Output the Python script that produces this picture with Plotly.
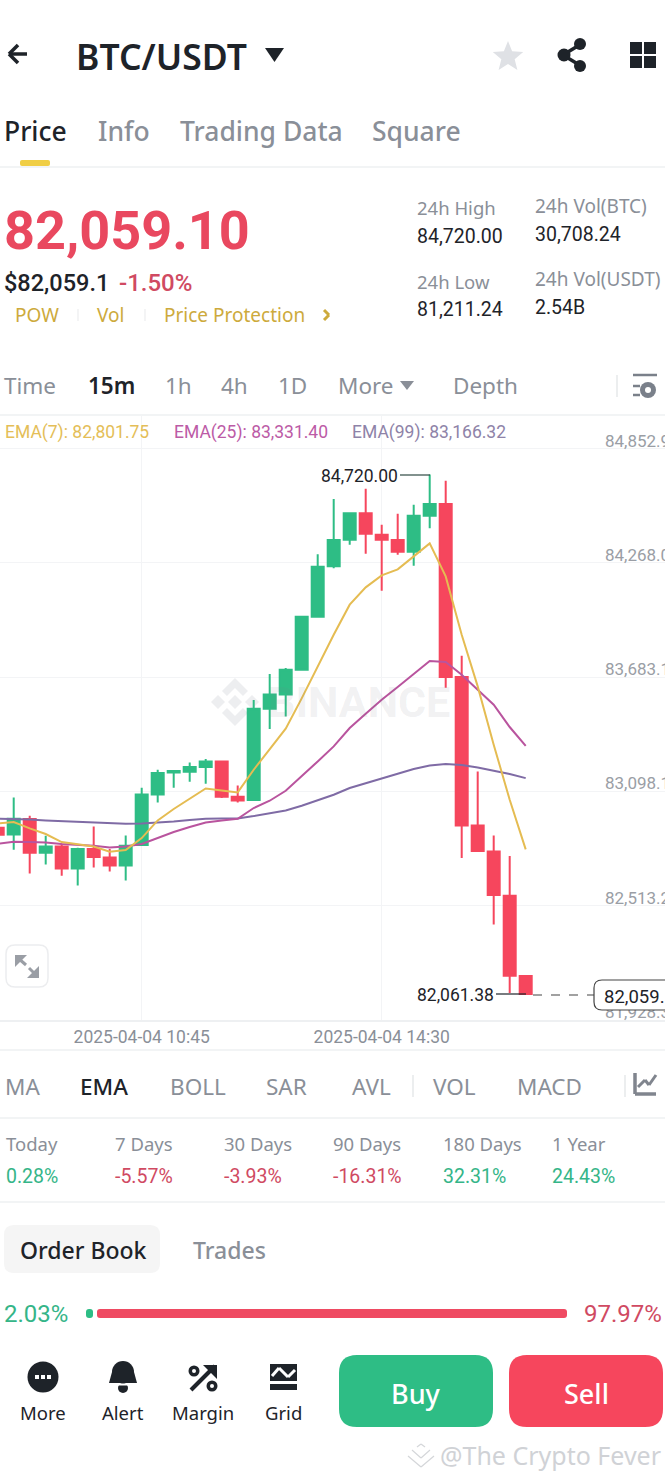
import math
import pandas as pd
import plotly.graph_objects as go

W = 665
H = 1477
TEXT_FONT = "Noto Sans"
NUM_FONT = "Roboto"
DARK = "#1E2329"
GRAY = "#8A8F98"
GREEN = "#2EBD85"
RED = "#F6465D"
GOLD = "#CDAA3C"
TXT_RED = "#D04A62"
TXT_GREEN = "#35B588"

# 15m candles, oldest first
times = pd.date_range("2025-04-04 08:30", periods=34, freq="15min")
opens = [82912.4, 82878.1, 82957.0, 82784.4, 82816.7, 82704.1, 82803.4, 82760.4, 82719.4, 82823.9,
         83082.9, 83195.6, 83199.2, 83223.2, 83251.9, 83071.2, 83054.3, 83521.7, 83594.9, 83721.4,
         83992.8, 84250.3, 84387.0, 84521.7, 84412.6, 84385.5, 84325.6, 84509.9, 84569.8, 83684.0,
         82924.2, 82791.1, 82564.3, 82153.1]
highs = [82938.0, 83067.6, 82973.9, 82871.5, 82830.5, 82810.0, 82919.1, 82803.4, 82873.0, 83117.2,
         83209.4, 83204.0, 83246.8, 83264.2, 83255.5, 83129.0, 83566.3, 83699.4, 83730.1, 83996.3,
         84311.8, 84595.4, 84521.7, 84648.1, 84463.8, 84520.1, 84566.2, 84720.0, 84689.1, 83793.1,
         83200.7, 82873.0, 82767.5, 82156.2]
lows = [82851.0, 82799.8, 82678.5, 82724.5, 82666.7, 82617.0, 82709.2, 82688.7, 82642.6, 82823.9,
        83042.0, 83117.2, 83148.0, 83137.7, 83064.5, 83042.0, 83050.7, 83417.8, 83482.3, 83721.4,
        83992.8, 84240.1, 84361.4, 84315.3, 84125.9, 84310.2, 84253.9, 84444.9, 83629.2, 82757.3,
        82793.1, 82417.3, 82066.1, 82061.38]
closes = [82876.6, 82958.5, 82784.4, 82816.7, 82704.1, 82803.4, 82762.4, 82719.4, 82820.3, 83082.9,
          83192.5, 83202.8, 83223.2, 83251.9, 83071.2, 83052.2, 83521.7, 83594.9, 83721.4, 83992.8,
          84248.8, 84385.5, 84521.7, 84417.7, 84387.0, 84325.6, 84509.9, 84569.8, 83684.0, 82924.2,
          82793.1, 82567.9, 82154.7, 82061.38]

ema7 = [82934.5, 82941.6, 82908.9, 82880.2, 82839.2, 82829.0, 82816.7, 82789.6, 82798.3, 82859.7,
        82949.8, 83008.2, 83060.9, 83113.7, 83103.4, 83093.2, 83209.4, 83311.8, 83419.3, 83574.5,
        83738.3, 83900.6, 84054.2, 84142.8, 84204.2, 84234.9, 84301.5, 84368.1, 84199.1, 83900.6,
        83635.9, 83337.4, 83055.8, 82801.75]
ema25 = [82830.5, 82840.8, 82839.2, 82837.2, 82829.0, 82825.4, 82820.3, 82811.6, 82816.7, 82829.0,
         82859.7, 82890.4, 82916.0, 82939.6, 82949.8, 82958.5, 83013.3, 83050.7, 83101.9, 83175.1,
         83251.9, 83328.7, 83422.9, 83496.1, 83567.8, 83632.8, 83700.9, 83765.9, 83760.8, 83695.8,
         83619.0, 83542.2, 83428.0, 83331.4]
ema99 = [82958.5, 82957.0, 82954.9, 82949.8, 82946.8, 82941.6, 82939.6, 82934.5, 82932.9, 82934.5,
         82938.0, 82944.7, 82951.9, 82958.5, 82960.1, 82960.1, 82972.3, 82987.8, 83001.0, 83025.1,
         83052.2, 83081.4, 83115.7, 83141.3, 83163.3, 83188.9, 83213.0, 83231.4, 83238.6, 83233.5,
         83221.2, 83205.9, 83187.4, 83166.32]

price_ticks = [84852.94, 84268.02, 83683.10, 83098.18, 82513.26, 81928.34]
date_ticks = ["2025-04-04 10:45", "2025-04-04 14:30"]

tabs = ["Price", "Info", "Trading Data", "Square"]
intervals = ["Time", "15m", "1h", "4h", "1D", "More", "Depth"]
indicators = ["MA", "EMA", "BOLL", "SAR", "AVL", "VOL", "MACD"]
period_names = ["Today", "7 Days", "30 Days", "90 Days", "180 Days", "1 Year"]
period_values = [0.28, -5.57, -3.93, -16.31, 32.31, 24.43]
bottom_names = ["More", "Alert", "Margin", "Grid"]

shapes = []
notes = []


def X(px):
    return px / W


def Y(px):
    return 1 - px / H


def txt(x, y, s, size, color=DARK, anchor="left", font=TEXT_FONT, weight=400):
    notes.append(dict(x=X(x), y=Y(y), xref="paper", yref="paper", text=s, showarrow=False,
                      xanchor=anchor, yanchor="middle", align=anchor, borderpad=0,
                      xshift=-1 if anchor == "left" else 0,
                      font=dict(size=size, color=color, family=font, weight=weight)))


def line(x0, y0, x1, y1, color="#EEF0F2", w=1.5, dash="solid", layer="above"):
    shapes.append(dict(type="line", xref="paper", yref="paper", x0=X(x0), y0=Y(y0), x1=X(x1), y1=Y(y1),
                       line=dict(color=color, width=w, dash=dash), layer=layer))


def poly(points, color, layer="above"):
    path = "M " + " L ".join(f"{X(p[0]):.5f},{Y(p[1]):.5f}" for p in points) + " Z"
    shapes.append(dict(type="path", xref="paper", yref="paper", path=path, fillcolor=color,
                       line=dict(width=0), layer=layer))


def dot(cx, cy, r, color):
    shapes.append(dict(type="circle", xref="paper", yref="paper", x0=X(cx - r), x1=X(cx + r),
                       y0=Y(cy + r), y1=Y(cy - r), fillcolor=color, line=dict(width=0), layer="above"))


def rbox(x0, y0, x1, y1, r, fill, border=None, bw=0):
    p = (f"M {X(x0 + r)},{Y(y0)} L {X(x1 - r)},{Y(y0)} Q {X(x1)},{Y(y0)} {X(x1)},{Y(y0 + r)} "
         f"L {X(x1)},{Y(y1 - r)} Q {X(x1)},{Y(y1)} {X(x1 - r)},{Y(y1)} L {X(x0 + r)},{Y(y1)} "
         f"Q {X(x0)},{Y(y1)} {X(x0)},{Y(y1 - r)} L {X(x0)},{Y(y0 + r)} Q {X(x0)},{Y(y0)} {X(x0 + r)},{Y(y0)} Z")
    shapes.append(dict(type="path", xref="paper", yref="paper", path=p, fillcolor=fill,
                       line=dict(color=border or fill, width=bw), layer="above"))


# header
line(9, 54, 27, 54, DARK, 3.5)
line(18, 45, 9, 54, DARK, 3.5)
line(9, 54, 18, 63, DARK, 3.5)
txt(76, 56, "BTC/USDT", 35.5, weight=600)
poly([(265, 48), (284, 48), (274.5, 62)], DARK)
star = []
for i in range(10):
    r = 16 if i % 2 == 0 else 7
    a = math.radians(-90 + 36 * i)
    star.append((508 + r * math.cos(a), 57 + r * math.sin(a)))
poly(star, "#DFE1E5")
line(563, 55, 581, 44, DARK, 3.5)
line(563, 55, 581, 66, DARK, 3.5)
dot(564, 55, 6.5, DARK)
dot(580, 44, 6, DARK)
dot(580, 66, 6, DARK)
for gx in (630, 644):
    for gy in (42, 56):
        poly([(gx, gy), (gx + 12, gy), (gx + 12, gy + 12), (gx, gy + 12)], DARK)

# tabs
for name, x in zip(tabs, [4, 98, 180, 372]):
    txt(x, 131, name, 26.5, DARK if name == "Price" else GRAY, weight=500)
rbox(20, 160, 50, 166, 2, "#F0CE45")
line(0, 167, W, 167)

# price block
txt(4, 231, "82,059.10", 54, "#E9485F", font=NUM_FONT, weight=700)
txt(4, 283, "$82,059.1", 23.5, font=NUM_FONT, weight=500)
txt(119, 283, "-1.50%", 24, TXT_RED, font=NUM_FONT, weight=500)
txt(15, 315, "POW", 19, GOLD)
txt(97, 315, "Vol", 19, GOLD)
txt(164, 315, "Price Protection", 19, GOLD)
line(78, 309, 78, 321, "#ECEDEF", 1.2)
line(145, 309, 145, 321, "#ECEDEF", 1.2)
line(324, 310, 329, 315, GOLD, 3)
line(329, 315, 324, 320, GOLD, 3)
txt(417, 208, "24h High", 18.5, GRAY)
txt(417, 236, "84,720.00", 19.5, font=NUM_FONT)
txt(535, 206, "24h Vol(BTC)", 19, GRAY)
txt(535, 234, "30,708.24", 19.5, font=NUM_FONT)
txt(417, 281, "24h Low", 18.5, GRAY)
txt(417, 310, "81,211.24", 19.5, font=NUM_FONT)
txt(535, 279, "24h Vol(USDT)", 19, GRAY)
txt(535, 307, "2.54B", 19.5, font=NUM_FONT)

# interval row
for name, x in zip(intervals, [4, 88, 165, 221, 278, 338, 453]):
    active = name == "15m"
    txt(x, 386, name, 22.5, DARK if active else GRAY, weight=600 if active else 400)
poly([(400, 381), (414, 381), (407, 390)], GRAY)
line(617, 375, 617, 397, "#E6E8EA", 1.5)
line(633, 375, 657, 375, "#7A808A", 2.5)
line(633, 386, 640, 386, "#7A808A", 2.5)
line(633, 395, 640, 395, "#7A808A", 2.5)
dot(648, 390, 8, "#7A808A")
dot(648, 390, 3, "white")
line(0, 415, W, 415)

# legend
txt(5, 432, "EMA(7): 82,801.75", 17.5, "#E4BE58", font=NUM_FONT)
txt(174, 432, "EMA(25): 83,331.40", 17.5, "#BC5BA6", font=NUM_FONT)
txt(352, 432, "EMA(99): 83,166.32", 17.5, "#8E83A8", font=NUM_FONT)

# watermark
poly([(235, 678), (248, 691), (243, 696), (235, 688), (227, 696), (222, 691)], "#EDEEF0", "below")
poly([(211, 702), (218, 695), (225, 702), (218, 709)], "#EDEEF0", "below")
poly([(228, 702), (235, 695), (242, 702), (235, 709)], "#EDEEF0", "below")
poly([(245, 702), (252, 695), (259, 702), (252, 709)], "#EDEEF0", "below")
poly([(235, 726), (222, 713), (227, 708), (235, 716), (243, 708), (248, 713)], "#EDEEF0", "below")
txt(268, 702, "BINANCE", 43, "rgba(120,125,135,0.11)", font=NUM_FONT, weight=700)

# chart markers
txt(321, 476, "84,720.00", 17.5, font=NUM_FONT)
line(400, 475, 430, 475, "#2F4A44", 1.2)
txt(417, 995, "82,061.38", 17.5, font=NUM_FONT)
line(496, 994, 526, 994, DARK, 1.2)
line(533, 995, 594, 995, "#444", 1.2, "dash")
rbox(594, 980, 680, 1010, 8, "white", "#444", 1.2)
txt(604, 997, "82,059.10", 18.5, font=NUM_FONT)
rbox(6, 945, 48, 987, 9, "white", "#ECEDEF", 1.5)
line(18, 958, 26, 965, "#9A9EA5", 3)
line(29, 968, 37, 976, "#9A9EA5", 3)
poly([(15, 955), (27, 955), (15, 967)], "#9A9EA5")
poly([(39, 978), (27, 978), (39, 966)], "#9A9EA5")

# indicator row
line(0, 1050, W, 1050)
for name, x in zip(indicators, [5, 80, 170, 266, 352, 433, 517]):
    txt(x, 1086, name, 22.5, DARK if name == "EMA" else GRAY, weight=500 if name == "EMA" else 400)
line(413, 1075, 413, 1097, "#E6E8EA", 1.5)
line(625, 1075, 625, 1097, "#E6E8EA", 1.5)
line(635, 1073, 635, 1094, "#80858E", 3.5)
line(635, 1094, 656, 1094, "#80858E", 3.5)
line(638, 1087, 645, 1080, "#80858E", 3)
line(645, 1080, 649, 1085, "#80858E", 3)
line(649, 1085, 656, 1075, "#80858E", 3)
line(0, 1118, W, 1118)

# period changes
for name, val, x in zip(period_names, period_values, [6, 115, 224, 333, 443, 552]):
    txt(x, 1143.5, name, 18.5, GRAY)
    col = TXT_GREEN if val >= 0 else TXT_RED
    txt(x, 1176, f"{val:.2f}%", 19.5, col, font=NUM_FONT)
line(0, 1202, W, 1202)

# order book
rbox(4, 1225, 160, 1273, 10, "#F5F5F5")
txt(20, 1250, "Order Book", 23, weight=500)
txt(193, 1250, "Trades", 23, GRAY, weight=500)
txt(4, 1314, "2.03%", 24, TXT_GREEN, font=NUM_FONT)
rbox(86, 1309, 93, 1318, 3, GREEN)
rbox(97, 1309, 567, 1318, 3, "#EF4A62")
txt(584, 1314, "97.97%", 24, TXT_RED, font=NUM_FONT)

# bottom bar
for name, x in zip(bottom_names, [43, 123, 203, 283]):
    txt(x, 1412, name, 18.5, anchor="center")
dot(43, 1377, 15.5, DARK)
for dx in (-6, 0, 6):
    poly([(43 + dx - 2, 1375), (43 + dx + 2, 1375), (43 + dx + 2, 1379), (43 + dx - 2, 1379)], "white")
dot(123, 1372, 11, DARK)
poly([(112, 1372), (134, 1372), (137, 1383), (109, 1383)], DARK)
dot(123, 1388, 5, DARK)
line(112, 1384.5, 134, 1384.5, "white", 2)
line(191, 1390, 215, 1366, DARK, 4)
poly([(203, 1365), (217, 1365), (217, 1379)], DARK)
dot(194, 1371, 5.5, DARK)
dot(194, 1371, 2, "white")
dot(212, 1386, 5.5, DARK)
dot(212, 1386, 2, "white")
poly([(270, 1364), (297, 1364), (297, 1381), (270, 1381)], DARK)
line(272, 1376, 279, 1368, "white", 3)
line(279, 1368, 288, 1377, "white", 3)
line(288, 1377, 295, 1370, "white", 3)
poly([(270, 1384), (297, 1384), (297, 1390), (270, 1390)], DARK)
rbox(339, 1355, 493, 1427, 18, GREEN)
rbox(509, 1355, 663, 1427, 18, RED)
txt(416, 1393, "Buy", 27, "white", "center", weight=500)
txt(586, 1393, "Sell", 27, "white", "center", weight=500)
line(408, 1456, 421, 1467, "#D4D6D9", 1.2)
line(421, 1467, 434, 1456, "#D4D6D9", 1.2)
line(412, 1450, 421, 1458, "#D4D6D9", 1.2)
line(421, 1458, 430, 1450, "#D4D6D9", 1.2)
line(417, 1447, 421, 1444, "#D4D6D9", 1.2)
line(421, 1444, 425, 1447, "#D4D6D9", 1.2)
txt(440, 1455, "@The Crypto Fever", 25, "#D0D2D6")

fig = go.Figure()
fig.add_trace(go.Candlestick(x=times, open=opens, high=highs, low=lows, close=closes,
                             increasing=dict(line=dict(color=GREEN, width=2), fillcolor=GREEN),
                             decreasing=dict(line=dict(color=RED, width=2), fillcolor=RED),
                             whiskerwidth=0, showlegend=False))
fig.add_trace(go.Scatter(x=times, y=ema99, mode="lines", line=dict(color="#7F6BA5", width=2), showlegend=False))
fig.add_trace(go.Scatter(x=times, y=ema25, mode="lines", line=dict(color="#B9549E", width=2), showlegend=False))
fig.add_trace(go.Scatter(x=times, y=ema7, mode="lines", line=dict(color="#E5BC52", width=2), showlegend=False))
# empty trace so the price labels axis gets drawn
fig.add_trace(go.Scatter(x=times[:1], y=price_ticks[:1], yaxis="y2", mode="markers", marker=dict(opacity=0), showlegend=False))

y_range = [81928.34, 85020]
fig.update_layout(
    width=W, height=H, margin=dict(l=0, r=0, t=0, b=0, autoexpand=False),
    paper_bgcolor="white", plot_bgcolor="white",
    boxgap=0.25, boxgroupgap=0, showlegend=False,
    shapes=shapes, annotations=notes,
    xaxis=dict(domain=[0, 1], range=["2025-04-04 08:32:09", "2025-04-04 18:55:36"],
               rangeslider=dict(visible=False), type="date",
               tickvals=date_ticks, tickformat="%Y-%m-%d %H:%M", ticks="",
               tickfont=dict(size=17.5, color=GRAY, family=NUM_FONT),
               showgrid=True, gridcolor="#F3F4F6", gridwidth=1.2, zeroline=False,
               showline=True, linecolor="#EEF0F2", linewidth=1.5),
    yaxis=dict(domain=[Y(1020), Y(416)], range=y_range, tickvals=price_ticks,
               showticklabels=False, ticks="", showgrid=True, gridcolor="#F3F4F6",
               gridwidth=1.2, zeroline=False),
    yaxis2=dict(overlaying="y", anchor="free", position=X(604), side="right", range=y_range,
                tickvals=price_ticks, tickformat=",.2f", ticks="", ticklen=0, showgrid=False,
                zeroline=False, showline=False, ticklabelshift=-8, automargin=False,
                tickfont=dict(size=17, color="#9A9EA5", family=NUM_FONT)),
)

fig.write_html("out.html", config={"displayModeBar": False},
               post_script="document.body.style.margin='0';document.documentElement.style.overflow='hidden';")
